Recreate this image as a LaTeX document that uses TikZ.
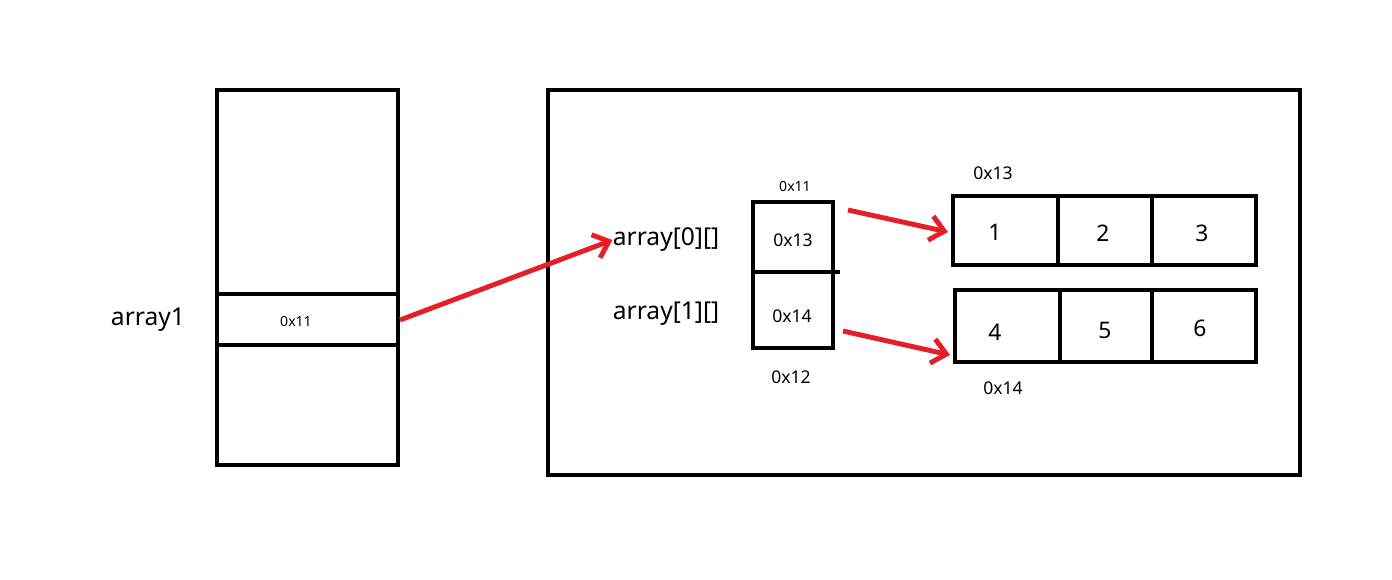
\documentclass[tikz,border=0pt]{standalone}
\usetikzlibrary{arrows.meta}
\usepackage{fontspec}
\setmainfont{Noto Sans}
\begin{document}
\begin{tikzpicture}[x=0.02cm,y=-0.02cm,
  box/.style={draw=black,line width=2.8pt},
  lab/.style={inner sep=0pt,font=\fontsize{14}{16}\selectfont},
  num/.style={inner sep=0pt,font=\fontsize{13}{15}\selectfont},
  mid/.style={inner sep=0pt,font=\fontsize{10}{12}\selectfont},
  sm/.style={inner sep=0pt,font=\fontsize{8}{10}\selectfont},
  arr/.style={draw={rgb,255:red,230;green,30;blue,40},line width=2.8pt,-{Straight Barb[length=8pt,width=14pt]}}]
\useasboundingbox (0,0) rectangle (1392,579);
% left stack
\draw[box] (217,90) rectangle (398,465);
\draw[box] (217,294) -- (398,294) (217,345) -- (398,345);
\node[lab] (a1) at (148,320) {array1};
\node[sm] (p) at (296,321) {0x11};
\coordinate (s1) at (400,320);
% big frame
\draw[box] (548,90) rectangle (1300,475);
% pointer column
\draw[box] (753,202) rectangle (833,348);
\draw[box] (753,272) -- (840,272);
\node[mid] (c0) at (793,240) {0x13};
\node[mid] (c1) at (792,316) {0x14};
\node[sm] at (795,186) {0x11};
\node[mid] at (791,377) {0x12};
\node[lab] (r0) at (666,240) {array[0][]};
\node[lab] (r1) at (666,314) {array[1][]};
% rows
\draw[box] (953,196) rectangle (1256,265);
\draw[box] (1058,196) -- (1058,265) (1152,196) -- (1152,265);
\node[num] at (995,232) {1};
\node[num] at (1103,233) {2};
\node[num] at (1202,233) {3};
\node[mid] at (993,173) {0x13};
\draw[box] (955,290) rectangle (1256,362);
\draw[box] (1060,290) -- (1060,362) (1152,290) -- (1152,362);
\node[num] at (995,332) {4};
\node[num] at (1105,330) {5};
\node[num] at (1200,328) {6};
\node[mid] at (1003,388) {0x14};
\coordinate (t0) at (948,232);
\coordinate (t1) at (950,355);
\coordinate (e0) at (848,210);
\coordinate (e1) at (843,331);
\draw[arr] (s1) -- (r0.west);
\draw[arr] (e0) -- (t0);
\draw[arr] (e1) -- (t1);
\end{tikzpicture}
\end{document}
